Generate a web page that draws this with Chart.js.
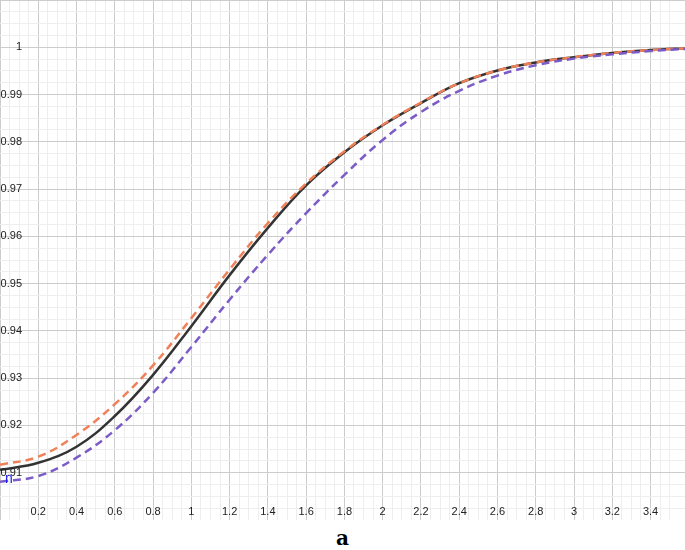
<!DOCTYPE html>
<html><head><meta charset="utf-8">
<script src="https://cdn.jsdelivr.net/npm/chart.js@4"></script>
<style>body{margin:0;background:#fff}#w{width:685px;height:520px;position:relative}
#a{width:685px;text-align:center;font:bold 20px "DejaVu Serif",serif;margin-top:6px}</style>
</head><body>
<div id="w"><canvas id="c"></canvas></div>
<div id="a">a</div>
<script>
const xs=[0,0.2,0.4,0.6,0.8,1.0,1.2,1.4,1.6,1.8,2.0,2.2,2.4,2.6,2.8,3.0,3.2,3.4,3.6];
const blackY=[0.9106,0.9121,0.9155,0.9220,0.9307,0.9410,0.9518,0.9618,0.9708,0.9778,0.9835,0.9882,0.9924,0.9951,0.9968,0.9979,0.9988,0.9994,0.9998];
const orangeY=[0.9117,0.9134,0.9180,0.9245,0.9327,0.9427,0.9530,0.9628,0.9712,0.9780,0.9836,0.9883,0.9924,0.9951,0.9968,0.9979,0.9988,0.9994,0.9998];
const purpleY=[0.9081,0.9093,0.9132,0.9190,0.9269,0.9366,0.9466,0.9561,0.9649,0.9730,0.9804,0.9863,0.9908,0.9940,0.9962,0.9976,0.9985,0.9992,0.9997];
const xLabels=["0.2","0.4","0.6","0.8","1","1.2","1.4","1.6","1.8","2","2.2","2.4","2.6","2.8","3","3.2","3.4"];
const yLabels=["0.91","0.92","0.93","0.94","0.95","0.96","0.97","0.98","0.99","1"];
const pts=a=>xs.map((x,i)=>({x,y:a[i]}));
const isMaj=(v,k)=>Math.abs(v*k-Math.round(v*k))<1e-6;
const labels={id:'lbl',afterDraw(ch){const c=ch.ctx,X=ch.scales.x,Y=ch.scales.y;c.save();
c.font='11px "Liberation Sans",Arial,sans-serif';c.fillStyle='#222';
c.textAlign='center';c.textBaseline='middle';
xLabels.forEach(t=>c.fillText(t,X.getPixelForValue(parseFloat(t)),512));
c.textAlign='right';
yLabels.forEach(t=>c.fillText(t,22,Y.getPixelForValue(parseFloat(t))));
c.fillStyle='#2222ee';c.font='14px "Liberation Sans",sans-serif';c.textAlign='center';c.fillText('n',9,479);
c.restore();}};
new Chart(document.getElementById('c'),{type:'line',
data:{datasets:[
{data:pts(purpleY),borderColor:'#7b5cc6',borderDash:[8,5],borderWidth:2.5,pointRadius:0,tension:0.4},
{data:pts(orangeY),borderColor:'#f08058',borderDash:[8,5],borderWidth:2.5,pointRadius:0,tension:0.4},
{data:pts(blackY),borderColor:'#333333',borderWidth:2.5,pointRadius:0,tension:0.4}]},
options:{responsive:true,maintainAspectRatio:false,animation:false,layout:{padding:0},
plugins:{legend:{display:false},tooltip:{enabled:false}},
scales:{
x:{type:'linear',min:0,max:3.58,border:{display:false},ticks:{display:false,stepSize:0.05},
grid:{drawTicks:false,color:c=>isMaj(c.tick.value,5)?'#cccccc':'#eeeeee'}},
y:{min:0.9,max:1.01,border:{display:false},ticks:{display:false,stepSize:0.0025},
grid:{drawTicks:false,color:c=>isMaj(c.tick.value,100)?'#cccccc':'#eeeeee'}}}},
plugins:[labels]});
</script></body></html>
